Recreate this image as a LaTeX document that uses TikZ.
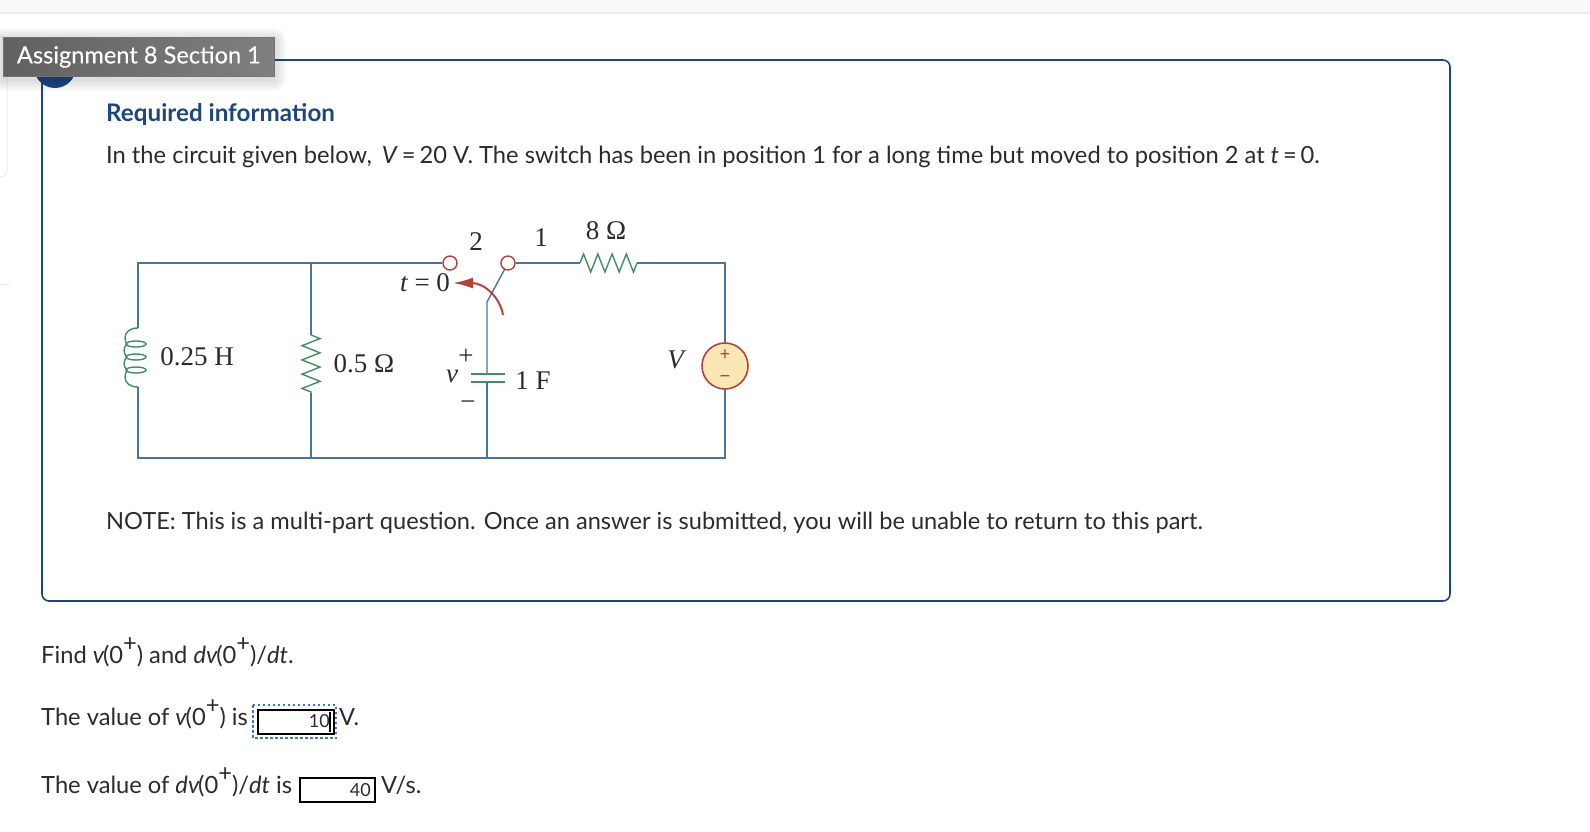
\documentclass[tikz,border=0pt]{standalone}
\usepackage{fontspec}
\setmainfont{Lato}
\newfontfamily\circfont{Liberation Serif}
\newfontfamily\tabfont[FakeBold=0.25]{Lato}
\usetikzlibrary{decorations.pathmorphing,arrows.meta}
\definecolor{navy}{HTML}{1C4680}
\definecolor{wirec}{HTML}{4F7396}
\definecolor{compc}{HTML}{3F8F63}
\definecolor{redc}{HTML}{B0443A}
\definecolor{srcc}{HTML}{FBE7B5}
\definecolor{inkc}{HTML}{2B2B2B}
\definecolor{focusc}{HTML}{4575B8}
\newcommand{\vzero}{\textit{v}\kern-1.5pt(0\raisebox{.5em}{+})}
\tikzset{
	txt/.style={anchor=base west,inner sep=0pt,text=inkc,font=\fontsize{23.7}{28}\selectfont},
	lab/.style={inner sep=0pt,text=inkc,font=\circfont\fontsize{27}{30}\selectfont},
	sign/.style={inner sep=0pt,text=redc,align=center,font=\circfont\bfseries\fontsize{19}{22}\selectfont},
	wire/.style={wirec,line width=1.4pt},
	comp/.style={compc,line width=1.4pt},
	res/.style={comp,decorate,decoration={zigzag,segment length=14.25,amplitude=9}},
	term/.style={circle,draw=redc,fill=white,line width=1.4pt,minimum size=14,inner sep=0pt},
	ansbox/.style={draw=black,line width=2pt,anchor=north west,inner sep=0pt,minimum height=24},
	ansval/.style={anchor=base east,inner sep=0pt,text=inkc,font=\fontsize{18}{22}\selectfont}
}
\begin{document}
\begin{tikzpicture}[x=1pt,y=-1pt]
	\useasboundingbox (0,0) rectangle (1590,832);
	% page furniture
	\fill[black!2] (0,0) rectangle (1590,12);
	\draw[black!7,line width=1.4pt] (0,13) -- (1590,13);
	\draw[black!7,line width=1pt,rounded corners=7] (0,36) -- (7,36) -- (7,177) -- (0,177);
	\draw[black!7,line width=1pt] (0,284) -- (10,284);

	% question frame
	\draw[navy,line width=1.6pt,rounded corners=7] (42,60) rectangle (1450,601);
	\fill[navy] (55,67) circle (21);

	% tab
	\foreach \s in {2,4,...,12}
		\fill[black,opacity=.025,rounded corners=\s] (3-\s,37-\s+3) rectangle (274+\s,76+\s+3);
	\node[draw=black!55,left color=black!62,right color=black!50,text=white,line width=.8pt,
		anchor=north west,minimum width=271,minimum height=39,inner sep=0,
		font=\tabfont\fontsize{23.6}{28}\selectfont] (tab) at (3,37) {Assignment 8 Section 1};

	\node[txt,text=navy,font=\bfseries\fontsize{24.2}{28}\selectfont] (req) at (106,122) {Required information};
	\node[txt] (intro) at (106,164) {In the circuit given below, \,\textit{V}\,=\,20 V. The switch has been in position 1 for a long time but moved to position 2 at \textit{t}\,=\,0.};

	% circuit
	\coordinate (tl) at (138,263);
	\coordinate (bl) at (138,458);
	\coordinate (tm) at (311,263);
	\coordinate (bm) at (311,458);
	\coordinate (piv) at (487,302);
	\coordinate (bc) at (487,458);
	\coordinate (tr) at (725,263);
	\coordinate (br) at (725,458);
	\coordinate (lt) at (138,328);
	\coordinate (lb) at (138,387);
	\coordinate (rt) at (311,335);
	\coordinate (rb) at (311,393);
	\coordinate (st) at (580,263);
	\coordinate (se) at (637,263);
	\coordinate (ct) at (487,374);
	\coordinate (cb) at (487,382);
	\node[term] (sw2) at (450,263) {};
	\node[term] (sw1) at (508,263) {};
	\node[circle,draw=redc,fill=srcc,line width=1.6pt,minimum size=46,inner sep=0pt] (src) at (725,366) {};

	\draw[wire] (lt) -- (tl) -- (sw2);
	\draw[wire] (tm) -- (rt);
	\draw[wire] (rb) -- (bm);
	\draw[wire] (lb) -- (bl) -- (br) -- (src);
	\draw[wire] (sw1) -- (st);
	\draw[wire] (se) -- (tr) -- (src);
	\draw[wire] (sw1) -- (piv) -- (ct);
	\draw[wire] (cb) -- (bc);

	% inductor turns
	\foreach \y in {344,357,370}
		\draw[comp] (136,\y) ellipse (10 and 3);
	\foreach \y in {344,357}
		\draw[comp] (127,\y) .. controls (123,\y+4) and (123,\y+9) .. (127,\y+13);
	\draw[comp] (lt) .. controls (130,328) and (125,332) .. (125,338) .. controls (125,340) and (126,343) .. (127,344);
	\draw[comp] (lb) .. controls (130,387) and (125,383) .. (125,377) .. controls (125,375) and (126,372) .. (127,370);

	\draw[res] (rt) -- (rb);
	\draw[res] (st) -- (se);
	\draw[comp] (471,374) -- (505,374);
	\draw[comp] (471,382) -- (505,382);
	\draw[redc,line width=2pt,-{Latex[length=20,width=11]}] (503,315) .. controls (500,297) and (484,283) .. (453,283);

	\node[lab] (lab2) at (476,242) {2};
	\node[lab] (lab1) at (541,238) {1};
	\node[lab] (lab8) at (606,231) {8 Ω};
	\node[lab,anchor=east] (labt) at (450,283) {\textit{t}\kern6.5pt=\kern6.5pt0};
	\node[lab] (labL) at (197,357) {0.25 H};
	\node[lab] (labR) at (364,364) {0.5 Ω};
	\node[lab] (labp) at (466,357) {+};
	\node[lab] (labv) at (452,376) {\textit{v}};
	\node[lab] (labm) at (468,406) {\textminus};
	\node[lab] (labC) at (533,381) {1 F};
	\node[lab] (labV) at (677,360) {\textit{V}};
	\node[sign] (srcs) at (725,366) {+\\\textminus};

	\node[txt,font=\fontsize{23.6}{28}\selectfont] (note) at (106,529) {NOTE: This is a multi-part question. Once an answer is submitted, you will be unable to return to this part.};
	\node[txt] (find) at (41,663) {Find \vzero{} and \textit{dv}\kern-1.5pt(0\raisebox{.5em}{+})/\textit{dt}.};

	% answers
	\node[txt] (ans1) at (41,725) {The value of \vzero{} is};
	\draw[focusc,line width=2.5pt,dash pattern=on 2.5pt off 2.5pt] (253,705) rectangle (336,738);
	\node[ansbox,minimum width=76] (box1) at (257,709) {};
	\node[ansval] (val1) at (330,727) {10};
	\draw[black,line width=1.4pt] (330,712) -- (330,732);
	\node[txt] (unit1) at (339,725) {V.};
	\node[txt] (ans2) at (41,793) {The value of \textit{dv}\kern-1.5pt(0\raisebox{.5em}{+})/\textit{dt} is};
	\node[ansbox,minimum width=75] (box2) at (299,777) {};
	\node[ansval] (val2) at (371,796) {40};
	\node[txt] (unit2) at (381,793) {V/s.};
\end{tikzpicture}
\end{document}
